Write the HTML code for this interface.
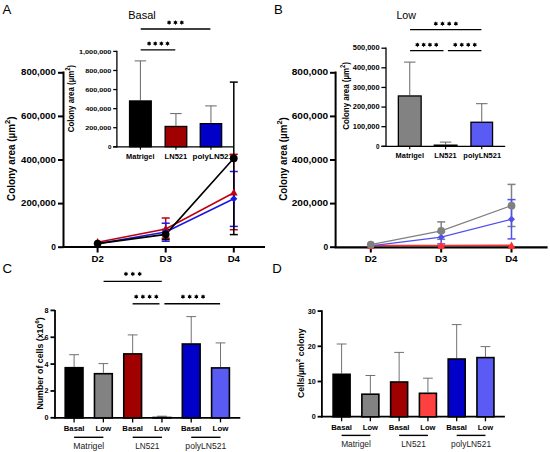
<!DOCTYPE html>
<html><head><meta charset="utf-8"><style>
html,body{margin:0;padding:0;background:#fff;}
body{width:550px;height:452px;overflow:hidden;}
svg{display:block;font-family:"Liberation Sans",sans-serif;}
</style></head><body>
<svg width="550" height="452" viewBox="0 0 550 452">
<rect width="550" height="452" fill="#fff"/>
<text x="2.6" y="14" font-size="13.2" font-weight="normal" text-anchor="start" fill="#000">A</text>
<text x="128.3" y="18.6" font-size="10.3" font-weight="normal" text-anchor="start" textLength="27.4" lengthAdjust="spacingAndGlyphs" fill="#000">Basal</text>
<line x1="140.7" y1="29.0" x2="210.4" y2="29.0" stroke="#000" stroke-width="1.4" stroke-linecap="butt"/>
<polygon points="169.10,20.25 168.38,21.34 167.06,21.43 167.65,22.60 167.06,23.78 168.38,23.86 169.10,24.95 169.82,23.86 171.14,23.78 170.55,22.60 171.14,21.43 169.82,21.34" fill="#000"/>
<polygon points="175.45,20.25 174.72,21.34 173.41,21.43 174.00,22.60 173.41,23.78 174.72,23.86 175.45,24.95 176.17,23.86 177.49,23.78 176.90,22.60 177.49,21.43 176.17,21.34" fill="#000"/>
<polygon points="181.80,20.25 181.07,21.34 179.76,21.43 180.35,22.60 179.76,23.78 181.07,23.86 181.80,24.95 182.52,23.86 183.84,23.78 183.25,22.60 183.84,21.43 182.52,21.34" fill="#000"/>
<line x1="140.7" y1="49.9" x2="175.3" y2="49.9" stroke="#000" stroke-width="1.4" stroke-linecap="butt"/>
<polygon points="149.11,41.25 148.38,42.34 147.07,42.42 147.66,43.60 147.07,44.77 148.38,44.86 149.11,45.95 149.83,44.86 151.14,44.78 150.56,43.60 151.14,42.43 149.83,42.34" fill="#000"/>
<polygon points="155.24,41.25 154.51,42.34 153.20,42.42 153.79,43.60 153.20,44.77 154.51,44.86 155.24,45.95 155.96,44.86 157.27,44.78 156.69,43.60 157.27,42.43 155.96,42.34" fill="#000"/>
<polygon points="161.37,41.25 160.64,42.34 159.33,42.42 159.92,43.60 159.33,44.77 160.64,44.86 161.37,45.95 162.09,44.86 163.40,44.78 162.81,43.60 163.40,42.43 162.09,42.34" fill="#000"/>
<polygon points="167.50,41.25 166.77,42.34 165.46,42.42 166.05,43.60 165.46,44.77 166.77,44.86 167.50,45.95 168.22,44.86 169.53,44.78 168.94,43.60 169.53,42.43 168.22,42.34" fill="#000"/>
<line x1="63.5" y1="71.5" x2="63.5" y2="248" stroke="#000" stroke-width="2" stroke-linecap="butt"/>
<line x1="62.5" y1="247.0" x2="265" y2="247.0" stroke="#000" stroke-width="2" stroke-linecap="butt"/>
<line x1="58" y1="72.79999999999998" x2="63.5" y2="72.79999999999998" stroke="#000" stroke-width="2" stroke-linecap="butt"/>
<text x="55.8" y="75.29999999999998" font-size="8.4" font-weight="bold" text-anchor="end" textLength="34.7" lengthAdjust="spacingAndGlyphs" fill="#000">800,000</text>
<line x1="58" y1="116.39999999999998" x2="63.5" y2="116.39999999999998" stroke="#000" stroke-width="2" stroke-linecap="butt"/>
<text x="55.8" y="118.89999999999998" font-size="8.4" font-weight="bold" text-anchor="end" textLength="34.7" lengthAdjust="spacingAndGlyphs" fill="#000">600,000</text>
<line x1="58" y1="160.0" x2="63.5" y2="160.0" stroke="#000" stroke-width="2" stroke-linecap="butt"/>
<text x="55.8" y="162.5" font-size="8.4" font-weight="bold" text-anchor="end" textLength="34.7" lengthAdjust="spacingAndGlyphs" fill="#000">400,000</text>
<line x1="58" y1="203.6" x2="63.5" y2="203.6" stroke="#000" stroke-width="2" stroke-linecap="butt"/>
<text x="55.8" y="206.1" font-size="8.4" font-weight="bold" text-anchor="end" textLength="34.7" lengthAdjust="spacingAndGlyphs" fill="#000">200,000</text>
<line x1="58" y1="247.2" x2="63.5" y2="247.2" stroke="#000" stroke-width="2" stroke-linecap="butt"/>
<text x="55.8" y="249.7" font-size="8.4" font-weight="bold" text-anchor="end" fill="#000">0</text>
<line x1="97.6" y1="247.0" x2="97.6" y2="252.5" stroke="#000" stroke-width="2" stroke-linecap="butt"/>
<text x="97.6" y="261.6" font-size="9.6" font-weight="bold" text-anchor="middle" fill="#000">D2</text>
<line x1="165.7" y1="247.0" x2="165.7" y2="252.5" stroke="#000" stroke-width="2" stroke-linecap="butt"/>
<text x="165.7" y="261.6" font-size="9.6" font-weight="bold" text-anchor="middle" fill="#000">D3</text>
<line x1="233.8" y1="247.0" x2="233.8" y2="252.5" stroke="#000" stroke-width="2" stroke-linecap="butt"/>
<text x="233.8" y="261.6" font-size="9.6" font-weight="bold" text-anchor="middle" fill="#000">D4</text>
<text transform="translate(14.8,158.7) rotate(-90)" font-size="10.5" font-weight="bold" text-anchor="middle" textLength="84.4" lengthAdjust="spacingAndGlyphs" fill="#000">Colony area (µm<tspan font-size="8" dy="-5">2</tspan><tspan dy="5">)</tspan></text>
<line x1="116.9" y1="50.8" x2="116.9" y2="147.4" stroke="#000" stroke-width="1.3" stroke-linecap="butt"/>
<line x1="113" y1="146.8" x2="233.2" y2="146.8" stroke="#000" stroke-width="1.3" stroke-linecap="butt"/>
<line x1="113.2" y1="51.40000000000002" x2="116.9" y2="51.40000000000002" stroke="#000" stroke-width="1.3" stroke-linecap="butt"/>
<text x="111.4" y="53.60000000000002" font-size="6.2" font-weight="bold" text-anchor="end" textLength="32.4" lengthAdjust="spacingAndGlyphs" fill="#000">1,000,000</text>
<line x1="113.2" y1="70.48000000000002" x2="116.9" y2="70.48000000000002" stroke="#000" stroke-width="1.3" stroke-linecap="butt"/>
<text x="111.4" y="72.68000000000002" font-size="6.2" font-weight="bold" text-anchor="end" textLength="26.2" lengthAdjust="spacingAndGlyphs" fill="#000">800,000</text>
<line x1="113.2" y1="89.56000000000002" x2="116.9" y2="89.56000000000002" stroke="#000" stroke-width="1.3" stroke-linecap="butt"/>
<text x="111.4" y="91.76000000000002" font-size="6.2" font-weight="bold" text-anchor="end" textLength="26.2" lengthAdjust="spacingAndGlyphs" fill="#000">600,000</text>
<line x1="113.2" y1="108.64000000000001" x2="116.9" y2="108.64000000000001" stroke="#000" stroke-width="1.3" stroke-linecap="butt"/>
<text x="111.4" y="110.84000000000002" font-size="6.2" font-weight="bold" text-anchor="end" textLength="26.2" lengthAdjust="spacingAndGlyphs" fill="#000">400,000</text>
<line x1="113.2" y1="127.72000000000001" x2="116.9" y2="127.72000000000001" stroke="#000" stroke-width="1.3" stroke-linecap="butt"/>
<text x="111.4" y="129.92000000000002" font-size="6.2" font-weight="bold" text-anchor="end" textLength="26.2" lengthAdjust="spacingAndGlyphs" fill="#000">200,000</text>
<line x1="113.2" y1="146.8" x2="116.9" y2="146.8" stroke="#000" stroke-width="1.3" stroke-linecap="butt"/>
<text x="111.4" y="149.0" font-size="6.2" font-weight="bold" text-anchor="end" fill="#000">0</text>
<text transform="translate(74.4,98.6) rotate(-90)" font-size="9.0" font-weight="bold" text-anchor="middle" textLength="67.2" lengthAdjust="spacingAndGlyphs" fill="#000">Colony area (µm<tspan font-size="6.6" dy="-4">2</tspan><tspan dy="4">)</tspan></text>
<line x1="140.4" y1="60.9" x2="140.4" y2="100.3" stroke="#666" stroke-width="1" stroke-linecap="butt"/>
<line x1="134.65" y1="60.9" x2="146.15" y2="60.9" stroke="#666" stroke-width="1" stroke-linecap="butt"/>
<rect x="129.55" y="100.95" width="21.70" height="45.80" fill="#000" stroke="#000" stroke-width="1.3"/>
<line x1="140.4" y1="146.8" x2="140.4" y2="149.8" stroke="#000" stroke-width="1.1" stroke-linecap="butt"/>
<line x1="175.95" y1="113.6" x2="175.95" y2="125.8" stroke="#666" stroke-width="1" stroke-linecap="butt"/>
<line x1="170.2" y1="113.6" x2="181.7" y2="113.6" stroke="#666" stroke-width="1" stroke-linecap="butt"/>
<rect x="165.15" y="126.45" width="21.60" height="20.30" fill="#a00000" stroke="#000" stroke-width="1.3"/>
<line x1="175.95" y1="146.8" x2="175.95" y2="149.8" stroke="#000" stroke-width="1.1" stroke-linecap="butt"/>
<line x1="210.95" y1="105.9" x2="210.95" y2="123.0" stroke="#666" stroke-width="1" stroke-linecap="butt"/>
<line x1="205.2" y1="105.9" x2="216.7" y2="105.9" stroke="#666" stroke-width="1" stroke-linecap="butt"/>
<rect x="200.25" y="123.65" width="21.40" height="23.10" fill="#0000c8" stroke="#000" stroke-width="1.3"/>
<line x1="210.95" y1="146.8" x2="210.95" y2="149.8" stroke="#000" stroke-width="1.1" stroke-linecap="butt"/>
<text x="140.3" y="158.6" font-size="7.2" font-weight="bold" text-anchor="middle" textLength="28.4" lengthAdjust="spacingAndGlyphs" fill="#000">Matrigel</text>
<text x="175.9" y="158.6" font-size="7.2" font-weight="bold" text-anchor="middle" textLength="22.6" lengthAdjust="spacingAndGlyphs" fill="#000">LN521</text>
<text x="212.8" y="158.6" font-size="7.2" font-weight="bold" text-anchor="middle" textLength="40.4" lengthAdjust="spacingAndGlyphs" fill="#000">polyLN521</text>
<line x1="165.7" y1="218.0" x2="165.7" y2="238.2" stroke="#c00010" stroke-width="1.5" stroke-linecap="butt"/>
<line x1="161.7" y1="218.0" x2="169.7" y2="218.0" stroke="#c00010" stroke-width="1.5" stroke-linecap="butt"/>
<line x1="161.7" y1="238.2" x2="169.7" y2="238.2" stroke="#c00010" stroke-width="1.5" stroke-linecap="butt"/>
<line x1="165.7" y1="223.2" x2="165.7" y2="241.2" stroke="#1818e0" stroke-width="1.5" stroke-linecap="butt"/>
<line x1="161.7" y1="223.2" x2="169.7" y2="223.2" stroke="#1818e0" stroke-width="1.5" stroke-linecap="butt"/>
<line x1="161.7" y1="241.2" x2="169.7" y2="241.2" stroke="#1818e0" stroke-width="1.5" stroke-linecap="butt"/>
<line x1="165.7" y1="229.5" x2="165.7" y2="239.5" stroke="#000" stroke-width="1.5" stroke-linecap="butt"/>
<line x1="161.7" y1="229.5" x2="169.7" y2="229.5" stroke="#000" stroke-width="1.5" stroke-linecap="butt"/>
<line x1="161.7" y1="239.5" x2="169.7" y2="239.5" stroke="#000" stroke-width="1.5" stroke-linecap="butt"/>
<line x1="233.8" y1="154.3" x2="233.8" y2="229.7" stroke="#c00010" stroke-width="1.5" stroke-linecap="butt"/>
<line x1="229.8" y1="154.3" x2="237.8" y2="154.3" stroke="#c00010" stroke-width="1.5" stroke-linecap="butt"/>
<line x1="229.8" y1="229.7" x2="237.8" y2="229.7" stroke="#c00010" stroke-width="1.5" stroke-linecap="butt"/>
<line x1="233.8" y1="171.5" x2="233.8" y2="226.4" stroke="#1818e0" stroke-width="1.5" stroke-linecap="butt"/>
<line x1="229.8" y1="171.5" x2="237.8" y2="171.5" stroke="#1818e0" stroke-width="1.5" stroke-linecap="butt"/>
<line x1="229.8" y1="226.4" x2="237.8" y2="226.4" stroke="#1818e0" stroke-width="1.5" stroke-linecap="butt"/>
<line x1="233.8" y1="82.1" x2="233.8" y2="234.6" stroke="#000" stroke-width="1.5" stroke-linecap="butt"/>
<line x1="229.8" y1="82.1" x2="237.8" y2="82.1" stroke="#000" stroke-width="1.5" stroke-linecap="butt"/>
<line x1="229.8" y1="234.6" x2="237.8" y2="234.6" stroke="#000" stroke-width="1.5" stroke-linecap="butt"/>
<polyline points="97.6,242.3 165.7,229.0 233.8,192.8" fill="none" stroke="#c00010" stroke-width="1.6"/>
<polyline points="97.6,243.8 165.7,232.0 233.8,198.8" fill="none" stroke="#1818e0" stroke-width="1.6"/>
<polyline points="97.6,243.6 165.7,234.4 233.8,158.3" fill="none" stroke="#000" stroke-width="1.6"/>
<polygon points="97.6,238.10000000000002 93.75,245.10000000000002 101.44999999999999,245.10000000000002" fill="#c00010"/>
<polygon points="165.7,224.8 161.85,231.8 169.54999999999998,231.8" fill="#c00010"/>
<polygon points="233.8,188.60000000000002 229.95000000000002,195.60000000000002 237.65,195.60000000000002" fill="#c00010"/>
<polygon points="97.6,240.3 101.1,243.8 97.6,247.3 94.1,243.8" fill="#1818e0"/>
<polygon points="165.7,228.5 169.2,232.0 165.7,235.5 162.2,232.0" fill="#1818e0"/>
<polygon points="233.8,195.3 237.3,198.8 233.8,202.3 230.3,198.8" fill="#1818e0"/>
<circle cx="97.6" cy="243.6" r="3.8" fill="#000"/>
<circle cx="165.7" cy="234.4" r="3.8" fill="#000"/>
<circle cx="233.8" cy="158.3" r="3.9" fill="#000"/>
<text x="274.0" y="13.8" font-size="13.2" font-weight="normal" text-anchor="start" fill="#000">B</text>
<text x="396.4" y="19.3" font-size="10.3" font-weight="normal" text-anchor="start" textLength="19.6" lengthAdjust="spacingAndGlyphs" fill="#000">Low</text>
<line x1="410.1" y1="29.6" x2="481.4" y2="29.6" stroke="#000" stroke-width="1.4" stroke-linecap="butt"/>
<polygon points="435.80,21.35 435.07,22.44 433.76,22.52 434.35,23.70 433.76,24.88 435.07,24.96 435.80,26.05 436.53,24.96 437.84,24.88 437.25,23.70 437.84,22.52 436.53,22.44" fill="#000"/>
<polygon points="442.50,21.35 441.77,22.44 440.46,22.52 441.05,23.70 440.46,24.88 441.77,24.96 442.50,26.05 443.23,24.96 444.54,24.88 443.95,23.70 444.54,22.52 443.23,22.44" fill="#000"/>
<polygon points="449.20,21.35 448.47,22.44 447.16,22.52 447.75,23.70 447.16,24.88 448.47,24.96 449.20,26.05 449.93,24.96 451.24,24.88 450.65,23.70 451.24,22.52 449.93,22.44" fill="#000"/>
<polygon points="455.90,21.35 455.18,22.44 453.86,22.52 454.45,23.70 453.86,24.88 455.18,24.96 455.90,26.05 456.63,24.96 457.94,24.88 457.35,23.70 457.94,22.52 456.63,22.44" fill="#000"/>
<line x1="410.1" y1="50.6" x2="443.5" y2="50.6" stroke="#000" stroke-width="1.4" stroke-linecap="butt"/>
<polygon points="417.35,42.45 416.62,43.54 415.31,43.62 415.90,44.80 415.31,45.97 416.62,46.06 417.35,47.15 418.08,46.06 419.39,45.98 418.80,44.80 419.39,43.62 418.08,43.54" fill="#000"/>
<polygon points="423.65,42.45 422.93,43.54 421.61,43.62 422.20,44.80 421.61,45.97 422.93,46.06 423.65,47.15 424.38,46.06 425.69,45.98 425.10,44.80 425.69,43.62 424.38,43.54" fill="#000"/>
<polygon points="429.95,42.45 429.23,43.54 427.91,43.62 428.50,44.80 427.91,45.97 429.23,46.06 429.95,47.15 430.68,46.06 431.99,45.98 431.40,44.80 431.99,43.62 430.68,43.54" fill="#000"/>
<polygon points="436.25,42.45 435.52,43.54 434.21,43.62 434.80,44.80 434.21,45.97 435.52,46.06 436.25,47.15 436.98,46.06 438.29,45.98 437.70,44.80 438.29,43.62 436.98,43.54" fill="#000"/>
<line x1="447.9" y1="50.6" x2="481.4" y2="50.6" stroke="#000" stroke-width="1.4" stroke-linecap="butt"/>
<polygon points="455.25,42.45 454.52,43.54 453.21,43.62 453.80,44.80 453.21,45.97 454.52,46.06 455.25,47.15 455.98,46.06 457.29,45.98 456.70,44.80 457.29,43.62 455.98,43.54" fill="#000"/>
<polygon points="461.75,42.45 461.02,43.54 459.71,43.62 460.30,44.80 459.71,45.97 461.02,46.06 461.75,47.15 462.48,46.06 463.79,45.98 463.20,44.80 463.79,43.62 462.48,43.54" fill="#000"/>
<polygon points="468.25,42.45 467.52,43.54 466.21,43.62 466.80,44.80 466.21,45.97 467.52,46.06 468.25,47.15 468.98,46.06 470.29,45.98 469.70,44.80 470.29,43.62 468.98,43.54" fill="#000"/>
<polygon points="474.75,42.45 474.02,43.54 472.71,43.62 473.30,44.80 472.71,45.97 474.02,46.06 474.75,47.15 475.48,46.06 476.79,45.98 476.20,44.80 476.79,43.62 475.48,43.54" fill="#000"/>
<line x1="335.6" y1="71.5" x2="335.6" y2="248" stroke="#000" stroke-width="2" stroke-linecap="butt"/>
<line x1="334.6" y1="247.3" x2="547.6" y2="247.3" stroke="#000" stroke-width="2.2" stroke-linecap="butt"/>
<line x1="330" y1="72.79999999999998" x2="335.6" y2="72.79999999999998" stroke="#000" stroke-width="2" stroke-linecap="butt"/>
<text x="328.2" y="75.29999999999998" font-size="8.4" font-weight="bold" text-anchor="end" textLength="36.5" lengthAdjust="spacingAndGlyphs" fill="#000">800,000</text>
<line x1="330" y1="116.39999999999998" x2="335.6" y2="116.39999999999998" stroke="#000" stroke-width="2" stroke-linecap="butt"/>
<text x="328.2" y="118.89999999999998" font-size="8.4" font-weight="bold" text-anchor="end" textLength="36.5" lengthAdjust="spacingAndGlyphs" fill="#000">600,000</text>
<line x1="330" y1="160.0" x2="335.6" y2="160.0" stroke="#000" stroke-width="2" stroke-linecap="butt"/>
<text x="328.2" y="162.5" font-size="8.4" font-weight="bold" text-anchor="end" textLength="36.5" lengthAdjust="spacingAndGlyphs" fill="#000">400,000</text>
<line x1="330" y1="203.6" x2="335.6" y2="203.6" stroke="#000" stroke-width="2" stroke-linecap="butt"/>
<text x="328.2" y="206.1" font-size="8.4" font-weight="bold" text-anchor="end" textLength="36.5" lengthAdjust="spacingAndGlyphs" fill="#000">200,000</text>
<line x1="330" y1="247.2" x2="335.6" y2="247.2" stroke="#000" stroke-width="2" stroke-linecap="butt"/>
<text x="328.2" y="249.7" font-size="8.4" font-weight="bold" text-anchor="end" fill="#000">0</text>
<line x1="370.8" y1="247.0" x2="370.8" y2="252.5" stroke="#000" stroke-width="2" stroke-linecap="butt"/>
<text x="370.8" y="261.6" font-size="9.6" font-weight="bold" text-anchor="middle" fill="#000">D2</text>
<line x1="441.2" y1="247.0" x2="441.2" y2="252.5" stroke="#000" stroke-width="2" stroke-linecap="butt"/>
<text x="441.2" y="261.6" font-size="9.6" font-weight="bold" text-anchor="middle" fill="#000">D3</text>
<line x1="511.5" y1="247.0" x2="511.5" y2="252.5" stroke="#000" stroke-width="2" stroke-linecap="butt"/>
<text x="511.5" y="261.6" font-size="9.6" font-weight="bold" text-anchor="middle" fill="#000">D4</text>
<text transform="translate(286.7,159.0) rotate(-90)" font-size="10.5" font-weight="bold" text-anchor="middle" textLength="83.6" lengthAdjust="spacingAndGlyphs" fill="#000">Colony area (µm<tspan font-size="8" dy="-5">2</tspan><tspan dy="5">)</tspan></text>
<line x1="386.0" y1="47.6" x2="386.0" y2="146.9" stroke="#000" stroke-width="1.3" stroke-linecap="butt"/>
<line x1="381.5" y1="146.3" x2="505.2" y2="146.3" stroke="#000" stroke-width="1.3" stroke-linecap="butt"/>
<line x1="381.4" y1="48.2" x2="386.0" y2="48.2" stroke="#000" stroke-width="1.3" stroke-linecap="butt"/>
<text x="379.6" y="50.400000000000006" font-size="6.3" font-weight="bold" text-anchor="end" textLength="26.8" lengthAdjust="spacingAndGlyphs" fill="#000">500,000</text>
<line x1="381.4" y1="67.82000000000001" x2="386.0" y2="67.82000000000001" stroke="#000" stroke-width="1.3" stroke-linecap="butt"/>
<text x="379.6" y="70.02000000000001" font-size="6.3" font-weight="bold" text-anchor="end" textLength="26.8" lengthAdjust="spacingAndGlyphs" fill="#000">400,000</text>
<line x1="381.4" y1="87.44000000000001" x2="386.0" y2="87.44000000000001" stroke="#000" stroke-width="1.3" stroke-linecap="butt"/>
<text x="379.6" y="89.64000000000001" font-size="6.3" font-weight="bold" text-anchor="end" textLength="26.8" lengthAdjust="spacingAndGlyphs" fill="#000">300,000</text>
<line x1="381.4" y1="107.06" x2="386.0" y2="107.06" stroke="#000" stroke-width="1.3" stroke-linecap="butt"/>
<text x="379.6" y="109.26" font-size="6.3" font-weight="bold" text-anchor="end" textLength="26.8" lengthAdjust="spacingAndGlyphs" fill="#000">200,000</text>
<line x1="381.4" y1="126.68" x2="386.0" y2="126.68" stroke="#000" stroke-width="1.3" stroke-linecap="butt"/>
<text x="379.6" y="128.88" font-size="6.3" font-weight="bold" text-anchor="end" textLength="26.8" lengthAdjust="spacingAndGlyphs" fill="#000">100,000</text>
<line x1="381.4" y1="146.3" x2="386.0" y2="146.3" stroke="#000" stroke-width="1.3" stroke-linecap="butt"/>
<text x="379.6" y="148.5" font-size="6.3" font-weight="bold" text-anchor="end" fill="#000">0</text>
<text transform="translate(349.0,95.9) rotate(-90)" font-size="9.0" font-weight="bold" text-anchor="middle" textLength="67.8" lengthAdjust="spacingAndGlyphs" fill="#000">Colony area (µm<tspan font-size="6.6" dy="-4">2</tspan><tspan dy="4">)</tspan></text>
<line x1="409.75" y1="62.1" x2="409.75" y2="95.3" stroke="#666" stroke-width="1" stroke-linecap="butt"/>
<line x1="404.0" y1="62.1" x2="415.5" y2="62.1" stroke="#666" stroke-width="1" stroke-linecap="butt"/>
<rect x="398.35" y="95.95" width="22.80" height="50.30" fill="#828282" stroke="#000" stroke-width="1.3"/>
<line x1="409.75" y1="146.3" x2="409.75" y2="149.3" stroke="#000" stroke-width="1.1" stroke-linecap="butt"/>
<line x1="445.6" y1="142.1" x2="445.6" y2="144.5" stroke="#666" stroke-width="1" stroke-linecap="butt"/>
<line x1="439.85" y1="142.1" x2="451.35" y2="142.1" stroke="#666" stroke-width="1" stroke-linecap="butt"/>
<rect x="434.25" y="145.15" width="22.70" height="1.10" fill="#ff4040" stroke="#000" stroke-width="1.3"/>
<line x1="445.6" y1="146.3" x2="445.6" y2="149.3" stroke="#000" stroke-width="1.1" stroke-linecap="butt"/>
<line x1="481.75" y1="103.7" x2="481.75" y2="121.6" stroke="#666" stroke-width="1" stroke-linecap="butt"/>
<line x1="476.0" y1="103.7" x2="487.5" y2="103.7" stroke="#666" stroke-width="1" stroke-linecap="butt"/>
<rect x="470.95" y="122.25" width="21.60" height="24.00" fill="#5a5af5" stroke="#000" stroke-width="1.3"/>
<line x1="481.75" y1="146.3" x2="481.75" y2="149.3" stroke="#000" stroke-width="1.1" stroke-linecap="butt"/>
<text x="409.8" y="158.2" font-size="7.2" font-weight="bold" text-anchor="middle" textLength="28.4" lengthAdjust="spacingAndGlyphs" fill="#000">Matrigel</text>
<text x="445.5" y="158.2" font-size="7.2" font-weight="bold" text-anchor="middle" textLength="22.3" lengthAdjust="spacingAndGlyphs" fill="#000">LN521</text>
<text x="482.2" y="158.2" font-size="7.2" font-weight="bold" text-anchor="middle" textLength="37.7" lengthAdjust="spacingAndGlyphs" fill="#000">polyLN521</text>
<line x1="441.2" y1="221.9" x2="441.2" y2="239.3" stroke="#808080" stroke-width="1.5" stroke-linecap="butt"/>
<line x1="437.2" y1="221.9" x2="445.2" y2="221.9" stroke="#808080" stroke-width="1.5" stroke-linecap="butt"/>
<line x1="437.2" y1="239.3" x2="445.2" y2="239.3" stroke="#808080" stroke-width="1.5" stroke-linecap="butt"/>
<line x1="511.5" y1="184.4" x2="511.5" y2="226.5" stroke="#808080" stroke-width="1.5" stroke-linecap="butt"/>
<line x1="507.5" y1="184.4" x2="515.5" y2="184.4" stroke="#808080" stroke-width="1.5" stroke-linecap="butt"/>
<line x1="507.5" y1="226.5" x2="515.5" y2="226.5" stroke="#808080" stroke-width="1.5" stroke-linecap="butt"/>
<line x1="441.2" y1="232.0" x2="441.2" y2="243.9" stroke="#5050f0" stroke-width="1.5" stroke-linecap="butt"/>
<line x1="437.2" y1="232.0" x2="445.2" y2="232.0" stroke="#5050f0" stroke-width="1.5" stroke-linecap="butt"/>
<line x1="437.2" y1="243.9" x2="445.2" y2="243.9" stroke="#5050f0" stroke-width="1.5" stroke-linecap="butt"/>
<line x1="511.5" y1="199.6" x2="511.5" y2="238.9" stroke="#5050f0" stroke-width="1.5" stroke-linecap="butt"/>
<line x1="507.5" y1="199.6" x2="515.5" y2="199.6" stroke="#5050f0" stroke-width="1.5" stroke-linecap="butt"/>
<line x1="507.5" y1="238.9" x2="515.5" y2="238.9" stroke="#5050f0" stroke-width="1.5" stroke-linecap="butt"/>
<polyline points="370.8,245.4 441.2,245.4 511.5,245.3" fill="none" stroke="#ff3030" stroke-width="1.5"/>
<polyline points="370.8,245.8 441.2,237.2 511.5,219.3" fill="none" stroke="#5050f0" stroke-width="1.2"/>
<polyline points="370.8,244.6 441.2,230.8 511.5,205.7" fill="none" stroke="#808080" stroke-width="1.2"/>
<polygon points="370.8,241.6 366.675,249.1 374.925,249.1" fill="#ff3030"/>
<polygon points="441.2,241.6 437.075,249.1 445.325,249.1" fill="#ff3030"/>
<polygon points="511.5,241.6 507.375,249.1 515.625,249.1" fill="#ff3030"/>
<polygon points="441.2,233.7 444.7,237.2 441.2,240.7 437.7,237.2" fill="#5050f0"/>
<polygon points="511.5,215.8 515.0,219.3 511.5,222.8 508.0,219.3" fill="#5050f0"/>
<circle cx="370.8" cy="244.6" r="3.9" fill="#808080"/>
<circle cx="441.2" cy="230.8" r="3.9" fill="#808080"/>
<circle cx="511.5" cy="205.7" r="3.9" fill="#808080"/>
<text x="2.4" y="272.8" font-size="13.2" font-weight="normal" text-anchor="start" fill="#000">C</text>
<line x1="55.0" y1="310.0" x2="55.0" y2="418.7" stroke="#000" stroke-width="1.8" stroke-linecap="butt"/>
<line x1="54.1" y1="417.8" x2="240.3" y2="417.8" stroke="#000" stroke-width="1.8" stroke-linecap="butt"/>
<line x1="50.5" y1="310.4" x2="55.0" y2="310.4" stroke="#000" stroke-width="1.8" stroke-linecap="butt"/>
<text x="48.6" y="312.79999999999995" font-size="7.2" font-weight="bold" text-anchor="end" fill="#000">8</text>
<line x1="50.5" y1="337.25" x2="55.0" y2="337.25" stroke="#000" stroke-width="1.8" stroke-linecap="butt"/>
<text x="48.6" y="339.65" font-size="7.2" font-weight="bold" text-anchor="end" fill="#000">6</text>
<line x1="50.5" y1="364.1" x2="55.0" y2="364.1" stroke="#000" stroke-width="1.8" stroke-linecap="butt"/>
<text x="48.6" y="366.5" font-size="7.2" font-weight="bold" text-anchor="end" fill="#000">4</text>
<line x1="50.5" y1="390.95" x2="55.0" y2="390.95" stroke="#000" stroke-width="1.8" stroke-linecap="butt"/>
<text x="48.6" y="393.34999999999997" font-size="7.2" font-weight="bold" text-anchor="end" fill="#000">2</text>
<line x1="50.5" y1="417.8" x2="55.0" y2="417.8" stroke="#000" stroke-width="1.8" stroke-linecap="butt"/>
<text x="48.6" y="420.2" font-size="7.2" font-weight="bold" text-anchor="end" fill="#000">0</text>
<text transform="translate(42.9,363.4) rotate(-90)" font-size="8.3" font-weight="bold" text-anchor="middle" textLength="92.4" lengthAdjust="spacingAndGlyphs" fill="#000">Number of cells (x10<tspan font-size="6" dy="-3.5">6</tspan><tspan dy="3.5">)</tspan></text>
<line x1="74.1" y1="354.7" x2="74.1" y2="366.9" stroke="#6a6a6a" stroke-width="0.95" stroke-linecap="butt"/>
<line x1="69.19999999999999" y1="354.7" x2="79.0" y2="354.7" stroke="#6a6a6a" stroke-width="0.95" stroke-linecap="butt"/>
<rect x="65.20" y="367.70" width="17.80" height="50.20" fill="#000" stroke="#000" stroke-width="1.6"/>
<line x1="74.1" y1="417.8" x2="74.1" y2="422.4" stroke="#000" stroke-width="1.3" stroke-linecap="butt"/>
<line x1="103.38" y1="363.6" x2="103.38" y2="372.9" stroke="#6a6a6a" stroke-width="0.95" stroke-linecap="butt"/>
<line x1="98.47999999999999" y1="363.6" x2="108.28" y2="363.6" stroke="#6a6a6a" stroke-width="0.95" stroke-linecap="butt"/>
<rect x="94.48" y="373.70" width="17.80" height="44.20" fill="#828282" stroke="#000" stroke-width="1.6"/>
<line x1="103.38" y1="417.8" x2="103.38" y2="422.4" stroke="#000" stroke-width="1.3" stroke-linecap="butt"/>
<line x1="132.66" y1="334.9" x2="132.66" y2="353.1" stroke="#6a6a6a" stroke-width="0.95" stroke-linecap="butt"/>
<line x1="127.75999999999999" y1="334.9" x2="137.56" y2="334.9" stroke="#6a6a6a" stroke-width="0.95" stroke-linecap="butt"/>
<rect x="123.76" y="353.90" width="17.80" height="64.00" fill="#a00000" stroke="#000" stroke-width="1.6"/>
<line x1="132.66" y1="417.8" x2="132.66" y2="422.4" stroke="#000" stroke-width="1.3" stroke-linecap="butt"/>
<line x1="161.94" y1="416.2" x2="161.94" y2="416.7" stroke="#6a6a6a" stroke-width="0.95" stroke-linecap="butt"/>
<line x1="157.04" y1="416.2" x2="166.84" y2="416.2" stroke="#6a6a6a" stroke-width="0.95" stroke-linecap="butt"/>
<rect x="153.04" y="417.50" width="17.80" height="0.40" fill="#ff4040" stroke="#000" stroke-width="1.6"/>
<line x1="161.94" y1="417.8" x2="161.94" y2="422.4" stroke="#000" stroke-width="1.3" stroke-linecap="butt"/>
<line x1="191.22" y1="316.6" x2="191.22" y2="343.2" stroke="#6a6a6a" stroke-width="0.95" stroke-linecap="butt"/>
<line x1="186.32" y1="316.6" x2="196.12" y2="316.6" stroke="#6a6a6a" stroke-width="0.95" stroke-linecap="butt"/>
<rect x="182.32" y="344.00" width="17.80" height="73.90" fill="#0000c8" stroke="#000" stroke-width="1.6"/>
<line x1="191.22" y1="417.8" x2="191.22" y2="422.4" stroke="#000" stroke-width="1.3" stroke-linecap="butt"/>
<line x1="220.5" y1="342.9" x2="220.5" y2="367.1" stroke="#6a6a6a" stroke-width="0.95" stroke-linecap="butt"/>
<line x1="215.6" y1="342.9" x2="225.4" y2="342.9" stroke="#6a6a6a" stroke-width="0.95" stroke-linecap="butt"/>
<rect x="211.60" y="367.90" width="17.80" height="50.00" fill="#5a5af5" stroke="#000" stroke-width="1.6"/>
<line x1="220.5" y1="417.8" x2="220.5" y2="422.4" stroke="#000" stroke-width="1.3" stroke-linecap="butt"/>
<text x="74.1" y="431.3" font-size="7" font-weight="bold" text-anchor="middle" textLength="20.6" lengthAdjust="spacingAndGlyphs" fill="#000">Basal</text>
<text x="103.38" y="431.3" font-size="7" font-weight="bold" text-anchor="middle" textLength="15.8" lengthAdjust="spacingAndGlyphs" fill="#000">Low</text>
<text x="132.66" y="431.3" font-size="7" font-weight="bold" text-anchor="middle" textLength="20.6" lengthAdjust="spacingAndGlyphs" fill="#000">Basal</text>
<text x="161.94" y="431.3" font-size="7" font-weight="bold" text-anchor="middle" textLength="15.8" lengthAdjust="spacingAndGlyphs" fill="#000">Low</text>
<text x="191.22" y="431.3" font-size="7" font-weight="bold" text-anchor="middle" textLength="20.6" lengthAdjust="spacingAndGlyphs" fill="#000">Basal</text>
<text x="220.5" y="431.3" font-size="7" font-weight="bold" text-anchor="middle" textLength="15.8" lengthAdjust="spacingAndGlyphs" fill="#000">Low</text>
<line x1="74.1" y1="437.3" x2="103.38" y2="437.3" stroke="#000" stroke-width="1.4" stroke-linecap="butt"/>
<text x="88.74" y="448.8" font-size="8.5" font-weight="normal" text-anchor="middle" textLength="30.8" lengthAdjust="spacingAndGlyphs" fill="#222">Matrigel</text>
<line x1="132.66" y1="437.3" x2="161.94" y2="437.3" stroke="#000" stroke-width="1.4" stroke-linecap="butt"/>
<text x="147.3" y="448.8" font-size="8.5" font-weight="normal" text-anchor="middle" textLength="24.3" lengthAdjust="spacingAndGlyphs" fill="#222">LN521</text>
<line x1="191.22" y1="437.3" x2="220.5" y2="437.3" stroke="#000" stroke-width="1.4" stroke-linecap="butt"/>
<text x="205.86" y="448.8" font-size="8.5" font-weight="normal" text-anchor="middle" textLength="41" lengthAdjust="spacingAndGlyphs" fill="#222">polyLN521</text>
<line x1="103.6" y1="281.4" x2="161.8" y2="281.4" stroke="#000" stroke-width="1.4" stroke-linecap="butt"/>
<polygon points="125.95,271.55 125.23,272.64 123.91,272.72 124.50,273.90 123.91,275.07 125.23,275.16 125.95,276.25 126.68,275.16 127.99,275.07 127.40,273.90 127.99,272.72 126.68,272.64" fill="#000"/>
<polygon points="132.80,271.55 132.08,272.64 130.76,272.72 131.35,273.90 130.76,275.07 132.08,275.16 132.80,276.25 133.53,275.16 134.84,275.07 134.25,273.90 134.84,272.72 133.53,272.64" fill="#000"/>
<polygon points="139.65,271.55 138.93,272.64 137.61,272.72 138.20,273.90 137.61,275.07 138.93,275.16 139.65,276.25 140.38,275.16 141.69,275.07 141.10,273.90 141.69,272.72 140.38,272.64" fill="#000"/>
<line x1="132.6" y1="303.8" x2="159.5" y2="303.8" stroke="#000" stroke-width="1.4" stroke-linecap="butt"/>
<polygon points="136.20,294.35 135.47,295.44 134.16,295.52 134.75,296.70 134.16,297.88 135.47,297.96 136.20,299.05 136.92,297.96 138.24,297.88 137.65,296.70 138.24,295.52 136.92,295.44" fill="#000"/>
<polygon points="142.90,294.35 142.17,295.44 140.86,295.52 141.45,296.70 140.86,297.88 142.17,297.96 142.90,299.05 143.62,297.96 144.94,297.88 144.35,296.70 144.94,295.52 143.62,295.44" fill="#000"/>
<polygon points="149.60,294.35 148.88,295.44 147.56,295.52 148.15,296.70 147.56,297.88 148.88,297.96 149.60,299.05 150.32,297.96 151.64,297.88 151.05,296.70 151.64,295.52 150.32,295.44" fill="#000"/>
<polygon points="156.30,294.35 155.57,295.44 154.26,295.52 154.85,296.70 154.26,297.88 155.57,297.96 156.30,299.05 157.02,297.96 158.34,297.88 157.75,296.70 158.34,295.52 157.02,295.44" fill="#000"/>
<line x1="164.4" y1="303.8" x2="220.1" y2="303.8" stroke="#000" stroke-width="1.4" stroke-linecap="butt"/>
<polygon points="182.95,294.35 182.22,295.44 180.91,295.52 181.50,296.70 180.91,297.88 182.22,297.96 182.95,299.05 183.67,297.96 184.99,297.88 184.40,296.70 184.99,295.52 183.67,295.44" fill="#000"/>
<polygon points="189.65,294.35 188.92,295.44 187.61,295.52 188.20,296.70 187.61,297.88 188.92,297.96 189.65,299.05 190.37,297.96 191.69,297.88 191.10,296.70 191.69,295.52 190.37,295.44" fill="#000"/>
<polygon points="196.35,294.35 195.62,295.44 194.31,295.52 194.90,296.70 194.31,297.88 195.62,297.96 196.35,299.05 197.07,297.96 198.39,297.88 197.80,296.70 198.39,295.52 197.07,295.44" fill="#000"/>
<polygon points="203.05,294.35 202.32,295.44 201.01,295.52 201.60,296.70 201.01,297.88 202.32,297.96 203.05,299.05 203.77,297.96 205.09,297.88 204.50,296.70 205.09,295.52 203.77,295.44" fill="#000"/>
<text x="272.3" y="272.8" font-size="13.2" font-weight="normal" text-anchor="start" fill="#000">D</text>
<line x1="321.9" y1="310.2" x2="321.9" y2="417.59999999999997" stroke="#000" stroke-width="1.8" stroke-linecap="butt"/>
<line x1="321.0" y1="416.7" x2="504.9" y2="416.7" stroke="#000" stroke-width="1.8" stroke-linecap="butt"/>
<line x1="317.6" y1="311.09999999999997" x2="321.9" y2="311.09999999999997" stroke="#000" stroke-width="1.8" stroke-linecap="butt"/>
<text x="315.8" y="313.49999999999994" font-size="7.2" font-weight="bold" text-anchor="end" fill="#000">30</text>
<line x1="317.6" y1="346.29999999999995" x2="321.9" y2="346.29999999999995" stroke="#000" stroke-width="1.8" stroke-linecap="butt"/>
<text x="315.8" y="348.69999999999993" font-size="7.2" font-weight="bold" text-anchor="end" fill="#000">20</text>
<line x1="317.6" y1="381.5" x2="321.9" y2="381.5" stroke="#000" stroke-width="1.8" stroke-linecap="butt"/>
<text x="315.8" y="383.9" font-size="7.2" font-weight="bold" text-anchor="end" fill="#000">10</text>
<line x1="317.6" y1="416.7" x2="321.9" y2="416.7" stroke="#000" stroke-width="1.8" stroke-linecap="butt"/>
<text x="315.8" y="419.09999999999997" font-size="7.2" font-weight="bold" text-anchor="end" fill="#000">0</text>
<text transform="translate(303.6,363.2) rotate(-90)" font-size="8.3" font-weight="bold" text-anchor="middle" textLength="69.7" lengthAdjust="spacingAndGlyphs" fill="#000">Cells/µm<tspan font-size="6" dy="-3.5">2</tspan><tspan dy="3.5"> colony</tspan></text>
<line x1="341.6" y1="344.0" x2="341.6" y2="373.5" stroke="#6a6a6a" stroke-width="0.95" stroke-linecap="butt"/>
<line x1="336.70000000000005" y1="344.0" x2="346.5" y2="344.0" stroke="#6a6a6a" stroke-width="0.95" stroke-linecap="butt"/>
<rect x="333.10" y="374.30" width="17.00" height="42.50" fill="#000" stroke="#000" stroke-width="1.6"/>
<line x1="341.6" y1="416.7" x2="341.6" y2="421.3" stroke="#000" stroke-width="1.3" stroke-linecap="butt"/>
<line x1="370.37" y1="375.5" x2="370.37" y2="393.4" stroke="#6a6a6a" stroke-width="0.95" stroke-linecap="butt"/>
<line x1="365.47" y1="375.5" x2="375.27" y2="375.5" stroke="#6a6a6a" stroke-width="0.95" stroke-linecap="butt"/>
<rect x="361.87" y="394.20" width="17.00" height="22.60" fill="#828282" stroke="#000" stroke-width="1.6"/>
<line x1="370.37" y1="416.7" x2="370.37" y2="421.3" stroke="#000" stroke-width="1.3" stroke-linecap="butt"/>
<line x1="399.14000000000004" y1="352.4" x2="399.14000000000004" y2="381.2" stroke="#6a6a6a" stroke-width="0.95" stroke-linecap="butt"/>
<line x1="394.24000000000007" y1="352.4" x2="404.04" y2="352.4" stroke="#6a6a6a" stroke-width="0.95" stroke-linecap="butt"/>
<rect x="390.64" y="382.00" width="17.00" height="34.80" fill="#a00000" stroke="#000" stroke-width="1.6"/>
<line x1="399.14000000000004" y1="416.7" x2="399.14000000000004" y2="421.3" stroke="#000" stroke-width="1.3" stroke-linecap="butt"/>
<line x1="427.91" y1="378.2" x2="427.91" y2="392.5" stroke="#6a6a6a" stroke-width="0.95" stroke-linecap="butt"/>
<line x1="423.01000000000005" y1="378.2" x2="432.81" y2="378.2" stroke="#6a6a6a" stroke-width="0.95" stroke-linecap="butt"/>
<rect x="419.41" y="393.30" width="17.00" height="23.50" fill="#ff4040" stroke="#000" stroke-width="1.6"/>
<line x1="427.91" y1="416.7" x2="427.91" y2="421.3" stroke="#000" stroke-width="1.3" stroke-linecap="butt"/>
<line x1="456.68" y1="324.6" x2="456.68" y2="358.2" stroke="#6a6a6a" stroke-width="0.95" stroke-linecap="butt"/>
<line x1="451.78000000000003" y1="324.6" x2="461.58" y2="324.6" stroke="#6a6a6a" stroke-width="0.95" stroke-linecap="butt"/>
<rect x="448.18" y="359.00" width="17.00" height="57.80" fill="#0000c8" stroke="#000" stroke-width="1.6"/>
<line x1="456.68" y1="416.7" x2="456.68" y2="421.3" stroke="#000" stroke-width="1.3" stroke-linecap="butt"/>
<line x1="485.45000000000005" y1="346.6" x2="485.45000000000005" y2="356.8" stroke="#6a6a6a" stroke-width="0.95" stroke-linecap="butt"/>
<line x1="480.55000000000007" y1="346.6" x2="490.35" y2="346.6" stroke="#6a6a6a" stroke-width="0.95" stroke-linecap="butt"/>
<rect x="476.95" y="357.60" width="17.00" height="59.20" fill="#5a5af5" stroke="#000" stroke-width="1.6"/>
<line x1="485.45000000000005" y1="416.7" x2="485.45000000000005" y2="421.3" stroke="#000" stroke-width="1.3" stroke-linecap="butt"/>
<text x="341.6" y="429.7" font-size="7" font-weight="bold" text-anchor="middle" textLength="20.7" lengthAdjust="spacingAndGlyphs" fill="#000">Basal</text>
<text x="370.37" y="429.7" font-size="7" font-weight="bold" text-anchor="middle" textLength="15.2" lengthAdjust="spacingAndGlyphs" fill="#000">Low</text>
<text x="399.14000000000004" y="429.7" font-size="7" font-weight="bold" text-anchor="middle" textLength="20.7" lengthAdjust="spacingAndGlyphs" fill="#000">Basal</text>
<text x="427.91" y="429.7" font-size="7" font-weight="bold" text-anchor="middle" textLength="15.2" lengthAdjust="spacingAndGlyphs" fill="#000">Low</text>
<text x="456.68" y="429.7" font-size="7" font-weight="bold" text-anchor="middle" textLength="20.7" lengthAdjust="spacingAndGlyphs" fill="#000">Basal</text>
<text x="485.45000000000005" y="429.7" font-size="7" font-weight="bold" text-anchor="middle" textLength="15.2" lengthAdjust="spacingAndGlyphs" fill="#000">Low</text>
<line x1="341.6" y1="435.4" x2="370.37" y2="435.4" stroke="#000" stroke-width="1.4" stroke-linecap="butt"/>
<text x="355.985" y="446.8" font-size="8.5" font-weight="normal" text-anchor="middle" textLength="29.7" lengthAdjust="spacingAndGlyphs" fill="#222">Matrigel</text>
<line x1="399.14000000000004" y1="435.4" x2="427.91" y2="435.4" stroke="#000" stroke-width="1.4" stroke-linecap="butt"/>
<text x="413.52500000000003" y="446.8" font-size="8.5" font-weight="normal" text-anchor="middle" textLength="24.6" lengthAdjust="spacingAndGlyphs" fill="#222">LN521</text>
<line x1="456.68" y1="435.4" x2="485.45000000000005" y2="435.4" stroke="#000" stroke-width="1.4" stroke-linecap="butt"/>
<text x="471.06500000000005" y="446.8" font-size="8.5" font-weight="normal" text-anchor="middle" textLength="40" lengthAdjust="spacingAndGlyphs" fill="#222">polyLN521</text>
</svg>
</body></html>
